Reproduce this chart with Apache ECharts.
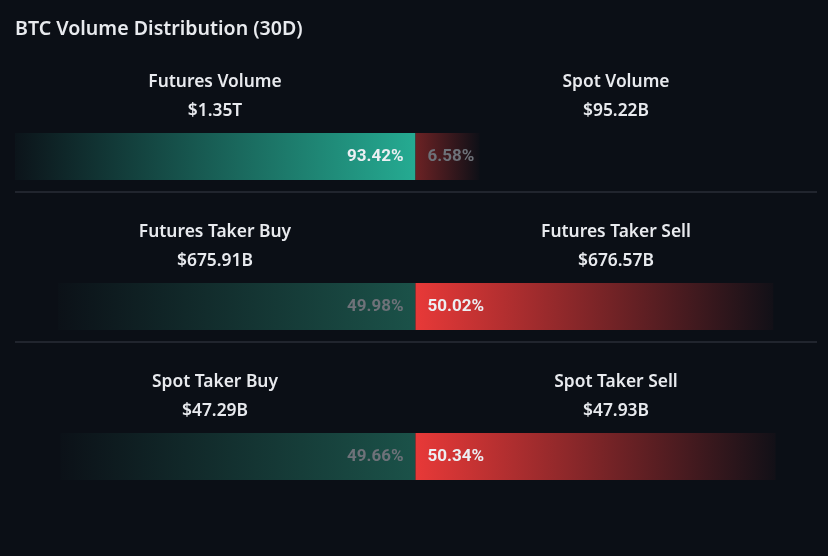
<!DOCTYPE html>
<html>
<head>
<meta charset="utf-8">
<script src="https://cdn.jsdelivr.net/npm/echarts@6/dist/echarts.min.js"></script>
<style>
  html, body { margin: 0; padding: 0; background: #0b0f16; }
  #chart { width: 828px; height: 556px; }
</style>
</head>
<body>
<div id="chart"></div>
<script>
// 数据
const chartTitle = 'BTC Volume Distribution (30D)';
const leftLabels = ['Futures Volume', 'Futures Taker Buy', 'Spot Taker Buy'];
const rightLabels = ['Spot Volume', 'Futures Taker Sell', 'Spot Taker Sell'];
const leftAmounts = ['$1.35T', '$675.91B', '$47.29B'];
const rightAmounts = ['$95.22B', '$676.57B', '$47.93B'];
const leftPct = [93.42, 49.98, 49.66];
const rightPct = [6.58, 50.02, 50.34];

const ROW_STEP = 150;
const FONT = '"Noto Sans", "Open Sans", sans-serif';
const NUM_FONT = 'Roboto, sans-serif';

// 渐变：从中心向外淡出
function fade(rgb, toLeft) {
    const c0 = `rgba(${rgb},0.03)`;
    const c1 = `rgba(${rgb},1)`;
    return new echarts.graphic.LinearGradient(0, 0, 1, 0, toLeft
        ? [{ offset: 0, color: c0 }, { offset: 1, color: c1 }]
        : [{ offset: 0, color: c1 }, { offset: 1, color: c0 }]);
}

const grids = [], xAxes = [], yAxes = [], series = [], titles = [], graphics = [];

titles.push({
    text: chartTitle, left: 15, top: 19, padding: 0,
    textStyle: { color: '#e8eaee', fontSize: 19.6, fontWeight: 600, fontFamily: FONT }
});

leftPct.forEach((lp, i) => {
    const rp = rightPct[i];
    const greenWins = lp > rp;
    const top = 133 + i * ROW_STEP;

    grids.push({ left: 15, width: 801, top: top, height: 47 });
    xAxes.push({ gridIndex: i, type: 'value', min: -56, max: 56, show: false });
    yAxes.push({ gridIndex: i, type: 'category', data: [leftLabels[i]], show: false });

    // 左侧（绿色）
    series.push({
        type: 'bar', xAxisIndex: i, yAxisIndex: i, stack: 'r' + i,
        barWidth: '100%', clip: true, silent: true,
        data: [-lp],
        itemStyle: { color: fade(greenWins ? '37,171,146' : '27,82,73', true) },
        label: {
            show: true, position: 'insideRight', distance: 12,
            formatter: () => lp.toFixed(2) + '%',
            color: greenWins ? '#eceff3' : '#6e7279',
            fontSize: 17, fontWeight: 'bold', fontFamily: NUM_FONT
        }
    });
    // 右侧（红色）
    series.push({
        type: 'bar', xAxisIndex: i, yAxisIndex: i, stack: 'r' + i,
        barWidth: '100%', clip: true, silent: true, barMinHeight: 64,
        data: [rp],
        itemStyle: { color: fade(greenWins ? '108,34,36' : '232,57,56', false) },
        label: {
            show: true, position: 'insideLeft', distance: 12,
            formatter: () => rp.toFixed(2) + '%',
            color: greenWins ? '#6e7279' : '#eceff3',
            fontSize: 17, fontWeight: 'bold', fontFamily: NUM_FONT
        }
    });

    const labelStyle = { color: '#e8eaee', fontSize: 17.4, fontWeight: 600, fontFamily: FONT };
    titles.push({
        text: leftLabels[i], subtext: leftAmounts[i], left: 215, textAlign: 'center',
        top: 74 + i * ROW_STEP, padding: 0, itemGap: 12, textStyle: labelStyle, subtextStyle: labelStyle
    });
    titles.push({
        text: rightLabels[i], subtext: rightAmounts[i], left: 616, textAlign: 'center',
        top: 74 + i * ROW_STEP, padding: 0, itemGap: 12, textStyle: labelStyle, subtextStyle: labelStyle
    });

    if (i < leftPct.length - 1) {
        graphics.push({
            type: 'line', silent: true,
            shape: { x1: 15, y1: 192 + i * ROW_STEP, x2: 817, y2: 192 + i * ROW_STEP },
            style: { stroke: '#2a2e37', lineWidth: 1.5 }
        });
    }
});

const chart = echarts.init(document.getElementById('chart'));
chart.setOption({
    backgroundColor: '#0b0f16',
    animation: false,
    title: titles,
    grid: grids,
    xAxis: xAxes,
    yAxis: yAxes,
    series: series,
    graphic: graphics
});
</script>
</body>
</html>
